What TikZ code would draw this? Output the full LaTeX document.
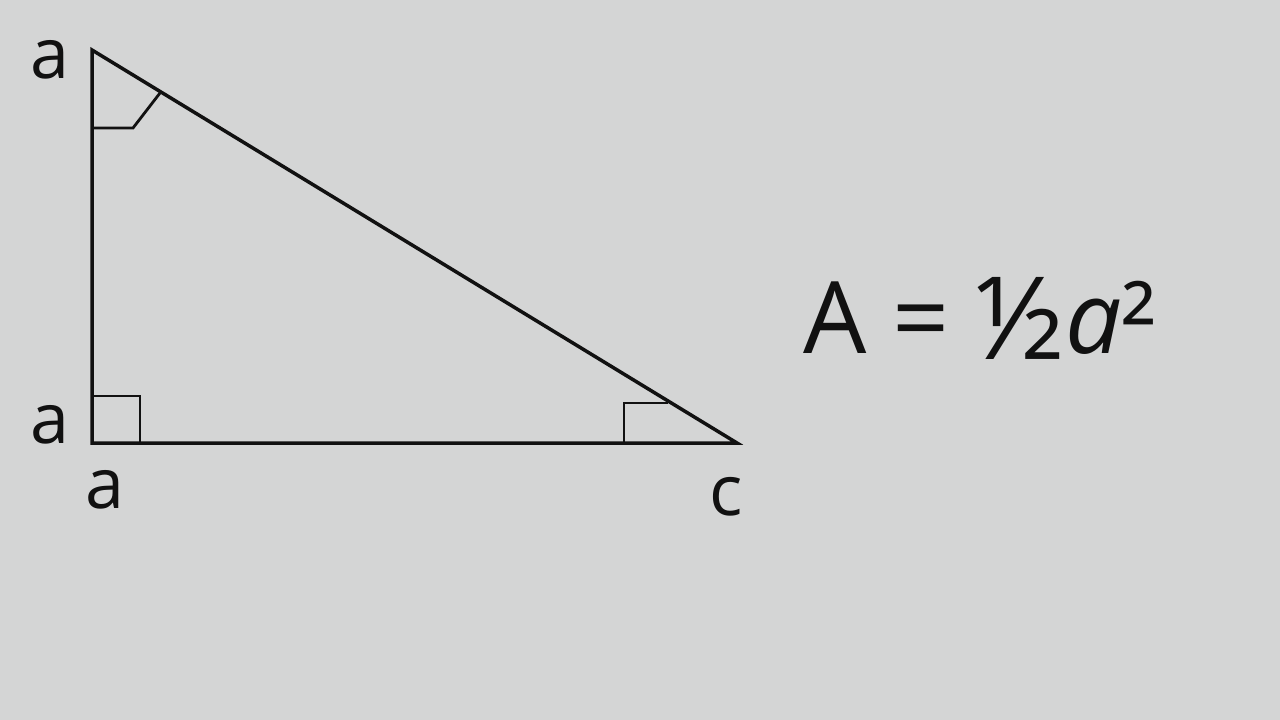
\documentclass[tikz,border=0pt]{standalone}
\usepackage{fontspec}
\setmainfont{Open Sans}
\definecolor{bg}{RGB}{212,213,213}
\definecolor{ink}{RGB}{17,17,17}
\tikzset{
  edge/.style={ink,line width=3.5pt,line join=miter},
  mark line/.style={ink,line width=2.8pt},
  lbl/.style={text=ink,inner sep=0pt,font=\fontsize{70}{70}\selectfont}
}
\begin{document}
\begin{tikzpicture}[x=1pt,y=-1pt]
   \fill[bg] (0,0) rectangle (1280,720);
   \coordinate (top) at (92,50);
   \coordinate (left) at (92,443);
   \coordinate (right) at (737,443);
   \draw[edge] (top)--(left)--(right)--cycle;
   % angle marks
   \draw[mark line] (92,128)--(133,128)--(160,93);
   \draw[mark line] (92,396)--(140,396)--(140,443);
   \draw[mark line] (624,443)--(624,403)--(668,403);
   % labels
   \node[lbl] (atop) at (50,60) {a};
   \node[lbl] (aleft) at (50,425) {a};
   \node[lbl] (abottom) at (105,490) {a};
   \node[lbl] (cright) at (726,497) {c};
   \node[text=ink,inner sep=0pt,anchor=base west,font=\fontsize{100}{100}\selectfont] (area) at (803,353) {A = \raisebox{-6pt}{\scalebox{1.15}{½}}\textit{a}²};
\end{tikzpicture}
\end{document}
